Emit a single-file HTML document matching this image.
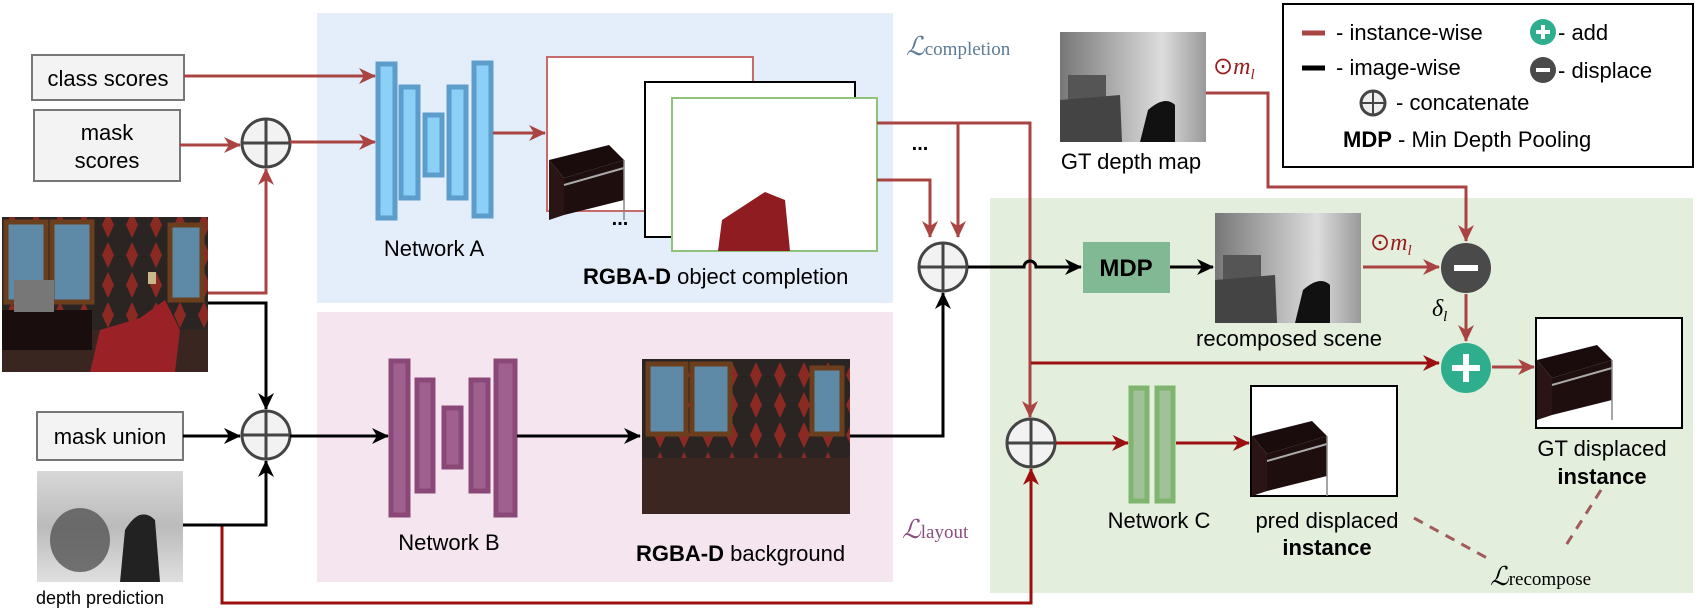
<!DOCTYPE html>
<html><head><meta charset="utf-8"><style>
html,body{margin:0;padding:0;background:#fff;}
svg{display:block;}
text{font-family:"Liberation Sans",sans-serif;}
.s{font-family:"Liberation Serif",serif;}
</style></head><body>
<svg width="1697" height="609" viewBox="0 0 1697 609" xmlns="http://www.w3.org/2000/svg">
<defs>
<marker id="ar" markerUnits="userSpaceOnUse" markerWidth="18" markerHeight="18" refX="16" refY="9" orient="auto"><path d="M0,1 L17,9 L0,17 L5,9 Z" fill="#a94442"/></marker>
<marker id="ad" markerUnits="userSpaceOnUse" markerWidth="18" markerHeight="18" refX="16" refY="9" orient="auto"><path d="M0,1 L17,9 L0,17 L5,9 Z" fill="#9b0f0f"/></marker>
<marker id="ab" markerUnits="userSpaceOnUse" markerWidth="18" markerHeight="18" refX="16" refY="9" orient="auto"><path d="M0,1 L17,9 L0,17 L5,9 Z" fill="#000"/></marker>
<linearGradient id="gd" x1="0" y1="0" x2="1" y2="0"><stop offset="0" stop-color="#777"/><stop offset="0.7" stop-color="#ddd"/><stop offset="1" stop-color="#999"/></linearGradient>
<linearGradient id="gp" x1="0" y1="0" x2="0" y2="1"><stop offset="0" stop-color="#d8d8d8"/><stop offset="0.5" stop-color="#bbb"/><stop offset="1" stop-color="#e0e0e0"/></linearGradient>
<pattern id="wall" width="24" height="30" patternUnits="userSpaceOnUse"><rect width="24" height="30" fill="#2a2422"/><path d="M12,2 L18,15 L12,28 L6,15 Z" fill="#8a2a22"/></pattern>
<g id="desk"><path d="M0,20 L60,5 L75,20 L15,38 Z" fill="#1a0c0c"/><path d="M0,20 L15,38 L15,75 L0,80 Z" fill="#2a1414"/><path d="M15,38 L75,20 L75,60 L15,75 Z" fill="#1e0e0e"/><path d="M15,45 L75,28" stroke="#aaa" stroke-width="2"/><path d="M75,20 L75,80" stroke="#888" stroke-width="1.5"/></g>
</defs>

<!-- panels -->
<rect x="317" y="13" width="576" height="290" fill="#e4eefb"/>
<rect x="317" y="312" width="576" height="270" fill="#f4e5ef"/>
<rect x="990" y="198" width="703" height="395" fill="#e3eedd"/>

<!-- legend -->
<rect x="1283" y="4" width="410" height="163" fill="#fff" stroke="#000" stroke-width="2"/>
<line x1="1302" y1="33" x2="1325" y2="33" stroke="#a94442" stroke-width="5"/>
<text x="1336" y="40" font-size="22">-  instance-wise</text>
<circle cx="1543" cy="32" r="13" fill="#2fae8e"/><path d="M1536,32 H1550 M1543,25 V39" stroke="#fff" stroke-width="4"/>
<text x="1558" y="40" font-size="22">-  add</text>
<line x1="1302" y1="68" x2="1325" y2="68" stroke="#000" stroke-width="5"/>
<text x="1336" y="75" font-size="22">-  image-wise</text>
<circle cx="1543" cy="70" r="13" fill="#4a4a4a"/><path d="M1536,70 H1550" stroke="#fff" stroke-width="4"/>
<text x="1558" y="78" font-size="22">-  displace</text>
<circle cx="1373" cy="103" r="12" fill="#eee" stroke="#444" stroke-width="3"/><path d="M1361,103 H1385 M1373,91 V115" stroke="#444" stroke-width="2"/>
<text x="1396" y="110" font-size="22">-  concatenate</text>
<text x="1343" y="147" font-size="22"><tspan font-weight="bold">MDP</tspan> - Min Depth Pooling</text>

<!-- input boxes -->
<rect x="32" y="55" width="152" height="45" fill="#f3f3f3" stroke="#777" stroke-width="2"/>
<text x="108" y="86" font-size="22" text-anchor="middle">class scores</text>
<rect x="34" y="110" width="146" height="71" fill="#f3f3f3" stroke="#777" stroke-width="2"/>
<text x="107" y="140" font-size="22" text-anchor="middle">mask</text>
<text x="107" y="168" font-size="22" text-anchor="middle">scores</text>
<rect x="37" y="412" width="146" height="48" fill="#f3f3f3" stroke="#777" stroke-width="2"/>
<text x="110" y="444" font-size="22" text-anchor="middle">mask union</text>

<!-- scene image -->
<rect x="2" y="217" width="206" height="155" fill="url(#wall)"/>
<rect x="6" y="222" width="40" height="80" fill="#5e8aa8" stroke="#6b3e1e" stroke-width="5"/>
<rect x="52" y="222" width="40" height="80" fill="#5e8aa8" stroke="#6b3e1e" stroke-width="5"/>
<rect x="170" y="225" width="32" height="75" fill="#5e8aa8" stroke="#6b3e1e" stroke-width="5"/>
<rect x="2" y="330" width="206" height="42" fill="#3a2620"/>
<rect x="2" y="310" width="90" height="40" fill="#1a0d0d"/>
<rect x="14" y="280" width="40" height="32" fill="#777"/>
<path d="M90,372 L100,330 L140,318 L165,300 L180,330 L175,372 Z" fill="#9a2226"/>
<rect x="148" y="272" width="8" height="12" fill="#c9b98a"/>

<!-- depth prediction -->
<rect x="37" y="471" width="146" height="111" fill="url(#gp)"/>
<ellipse cx="80" cy="540" rx="30" ry="32" fill="#555" opacity="0.8"/>
<path d="M120,582 L125,530 Q140,505 155,520 L160,582 Z" fill="#222"/>
<text x="100" y="604" font-size="18" text-anchor="middle">depth prediction</text>

<!-- concat symbols -->
<g stroke="#444" stroke-width="3" fill="#f2f2f2">
<circle cx="266" cy="143" r="24"/><path d="M242,143 H290 M266,119 V167" fill="none"/>
<circle cx="266" cy="435" r="24"/><path d="M242,435 H290 M266,411 V459" fill="none"/>
<circle cx="943" cy="267" r="24"/><path d="M919,267 H967 M943,243 V291" fill="none"/>
<circle cx="1031" cy="443" r="24"/><path d="M1007,443 H1055 M1031,419 V467" fill="none"/>
</g>

<!-- Network A -->
<g fill="#8bd0f7" stroke="#5d9dcc" stroke-width="5">
<rect x="378" y="64" width="17" height="154"/>
<rect x="401" y="87" width="17" height="111"/>
<rect x="425" y="115" width="17" height="60"/>
<rect x="449" y="87" width="17" height="111"/>
<rect x="474" y="63" width="17" height="153"/>
</g>
<text x="434" y="256" font-size="22" text-anchor="middle">Network A</text>

<!-- cards -->
<rect x="547" y="57" width="206" height="154" fill="#fff" stroke="#c76a6a" stroke-width="2"/>
<use href="#desk" x="549" y="140"/>
<rect x="645" y="82" width="210" height="155" fill="#fff" stroke="#000" stroke-width="2"/>
<rect x="672" y="98" width="205" height="153" fill="#fff" stroke="#8fc27a" stroke-width="2"/>
<path d="M718,251 L722,220 L745,205 L765,192 L785,200 L790,251 Z" fill="#8e1c20"/>
<text x="620" y="225" font-size="20" font-weight="bold" text-anchor="middle">...</text>
<text x="920" y="150" font-size="20" font-weight="bold" text-anchor="middle">...</text>
<text x="583" y="284" font-size="22"><tspan font-weight="bold">RGBA-D</tspan> object completion</text>
<text x="906" y="55" font-size="26" fill="#5b7a95" class="s" font-style="italic">ℒ<tspan font-size="19" font-style="normal">completion</tspan></text>

<!-- Network B -->
<g fill="#a0608f" stroke="#8a4878" stroke-width="5">
<rect x="391" y="361" width="17" height="154"/>
<rect x="417" y="380" width="16" height="111"/>
<rect x="444" y="408" width="17" height="59"/>
<rect x="471" y="380" width="17" height="111"/>
<rect x="496" y="361" width="19" height="154"/>
</g>
<text x="449" y="550" font-size="22" text-anchor="middle">Network B</text>
<rect x="642" y="359" width="208" height="155" fill="url(#wall)"/>
<rect x="648" y="364" width="38" height="70" fill="#5e8aa8" stroke="#6b3e1e" stroke-width="5"/>
<rect x="692" y="364" width="38" height="70" fill="#5e8aa8" stroke="#6b3e1e" stroke-width="5"/>
<rect x="812" y="368" width="30" height="66" fill="#5e8aa8" stroke="#6b3e1e" stroke-width="5"/>
<rect x="642" y="458" width="208" height="56" fill="#3b2622"/>
<text x="636" y="561" font-size="22"><tspan font-weight="bold">RGBA-D</tspan> background</text>
<text x="902" y="538" font-size="26" fill="#8a4d80" class="s" font-style="italic">ℒ<tspan font-size="19" font-style="normal">layout</tspan></text>

<!-- GT depth map -->
<rect x="1060" y="32" width="146" height="110" fill="url(#gd)"/>
<rect x="1068" y="75" width="38" height="35" fill="#555"/>
<path d="M1060,100 L1120,95 L1122,142 L1060,142 Z" fill="#444"/>
<path d="M1140,142 L1148,110 Q1165,95 1175,105 L1175,142 Z" fill="#111"/>
<text x="1131" y="169" font-size="22" text-anchor="middle">GT depth map</text>
<text x="1213" y="74" font-size="24" fill="#9b1c1c" class="s">⊙<tspan font-style="italic">m</tspan><tspan font-size="15" dy="5" font-style="italic">l</tspan></text>

<!-- MDP + recomposed -->
<rect x="1083" y="242" width="87" height="51" fill="#82b995"/>
<text x="1126" y="276" font-size="24" font-weight="bold" text-anchor="middle">MDP</text>
<rect x="1215" y="213" width="146" height="110" fill="url(#gd)"/>
<rect x="1223" y="255" width="38" height="35" fill="#555"/>
<path d="M1215,280 L1275,275 L1277,323 L1215,323 Z" fill="#444"/>
<path d="M1295,323 L1303,290 Q1320,275 1330,285 L1330,323 Z" fill="#111"/>
<text x="1289" y="346" font-size="22" text-anchor="middle">recomposed scene</text>
<text x="1370" y="250" font-size="24" fill="#9b1c1c" class="s">⊙<tspan font-style="italic">m</tspan><tspan font-size="15" dy="5" font-style="italic">l</tspan></text>
<text x="1432" y="316" font-size="24" class="s" font-style="italic">δ<tspan font-size="15" dy="5">l</tspan></text>

<!-- minus/plus -->
<circle cx="1466" cy="268" r="25" fill="#4a4a4a"/><path d="M1454,268 H1478" stroke="#fff" stroke-width="6"/>
<circle cx="1466" cy="368" r="25" fill="#2fae8e"/><path d="M1452,368 H1480 M1466,354 V382" stroke="#fff" stroke-width="6"/>

<!-- GT displaced -->
<rect x="1536" y="318" width="146" height="110" fill="#fff" stroke="#000" stroke-width="2"/>
<use href="#desk" x="1537" y="340"/>
<text x="1602" y="456" font-size="22" text-anchor="middle">GT displaced</text>
<text x="1602" y="484" font-size="22" font-weight="bold" text-anchor="middle">instance</text>

<!-- Network C -->
<g fill="#a2c09a" stroke="#7fb56e" stroke-width="5">
<rect x="1131" y="388" width="16" height="113"/>
<rect x="1157" y="388" width="16" height="113"/>
</g>
<text x="1159" y="528" font-size="22" text-anchor="middle">Network C</text>
<rect x="1251" y="386" width="146" height="110" fill="#fff" stroke="#000" stroke-width="2"/>
<use href="#desk" x="1252" y="416" transform="scale(1)"/>
<text x="1327" y="528" font-size="22" text-anchor="middle">pred displaced</text>
<text x="1327" y="555" font-size="22" font-weight="bold" text-anchor="middle">instance</text>
<path d="M1414,518 L1487,558" stroke="#a05a5a" stroke-width="3" stroke-dasharray="10,8"/>
<path d="M1601,490 L1563,550" stroke="#a05a5a" stroke-width="3" stroke-dasharray="10,8"/>
<text x="1490" y="585" font-size="26" class="s" font-style="italic">ℒ<tspan font-size="19" font-style="normal">recompose</tspan></text>

<!-- red (instance-wise) connectors -->
<g fill="none" stroke="#a94442" stroke-width="3">
<path d="M184,76 H375" marker-end="url(#ar)"/>
<path d="M180,145 H240" marker-end="url(#ar)"/>
<path d="M290,142 H375" marker-end="url(#ar)"/>
<path d="M208,293 H266 V169" marker-end="url(#ar)"/>
<path d="M493,133 H545" marker-end="url(#ar)"/>
<path d="M877,123 H1030 V417" marker-end="url(#ar)"/>
<path d="M958,123 V237" marker-end="url(#ar)"/>
<path d="M877,180 H930 V237" marker-end="url(#ar)"/>
<path d="M1206,93 H1268 V187 H1466 V241" marker-end="url(#ar)"/>
<path d="M1363,267 H1439" marker-end="url(#ar)"/>
<path d="M1466,294 V341" marker-end="url(#ar)"/>
<path d="M1492,367 H1534" marker-end="url(#ar)"/>
</g>
<g fill="none" stroke="#9b0f0f" stroke-width="3">
<path d="M1031,363 H1439" marker-end="url(#ad)"/>
<path d="M222,525 V603 H1031 V469" marker-end="url(#ad)"/>
<path d="M1056,443 H1128" marker-end="url(#ad)"/>
<path d="M1176,443 H1249" marker-end="url(#ad)"/>
</g>
<!-- black connectors -->
<g fill="none" stroke="#000" stroke-width="3">
<path d="M208,303 H266 V409" marker-end="url(#ab)"/>
<path d="M183,436 H240" marker-end="url(#ab)"/>
<path d="M183,525 H266 V461" marker-end="url(#ab)"/>
<path d="M290,436 H388" marker-end="url(#ab)"/>
<path d="M517,436 H640" marker-end="url(#ab)"/>
<path d="M850,436 H943 V293" marker-end="url(#ab)"/>
<path d="M968,267 H1024 A6,6 0 0 1 1036,267 H1081" marker-end="url(#ab)"/>
<path d="M1170,267 H1213" marker-end="url(#ab)"/>
</g>
</svg>
</body></html>
